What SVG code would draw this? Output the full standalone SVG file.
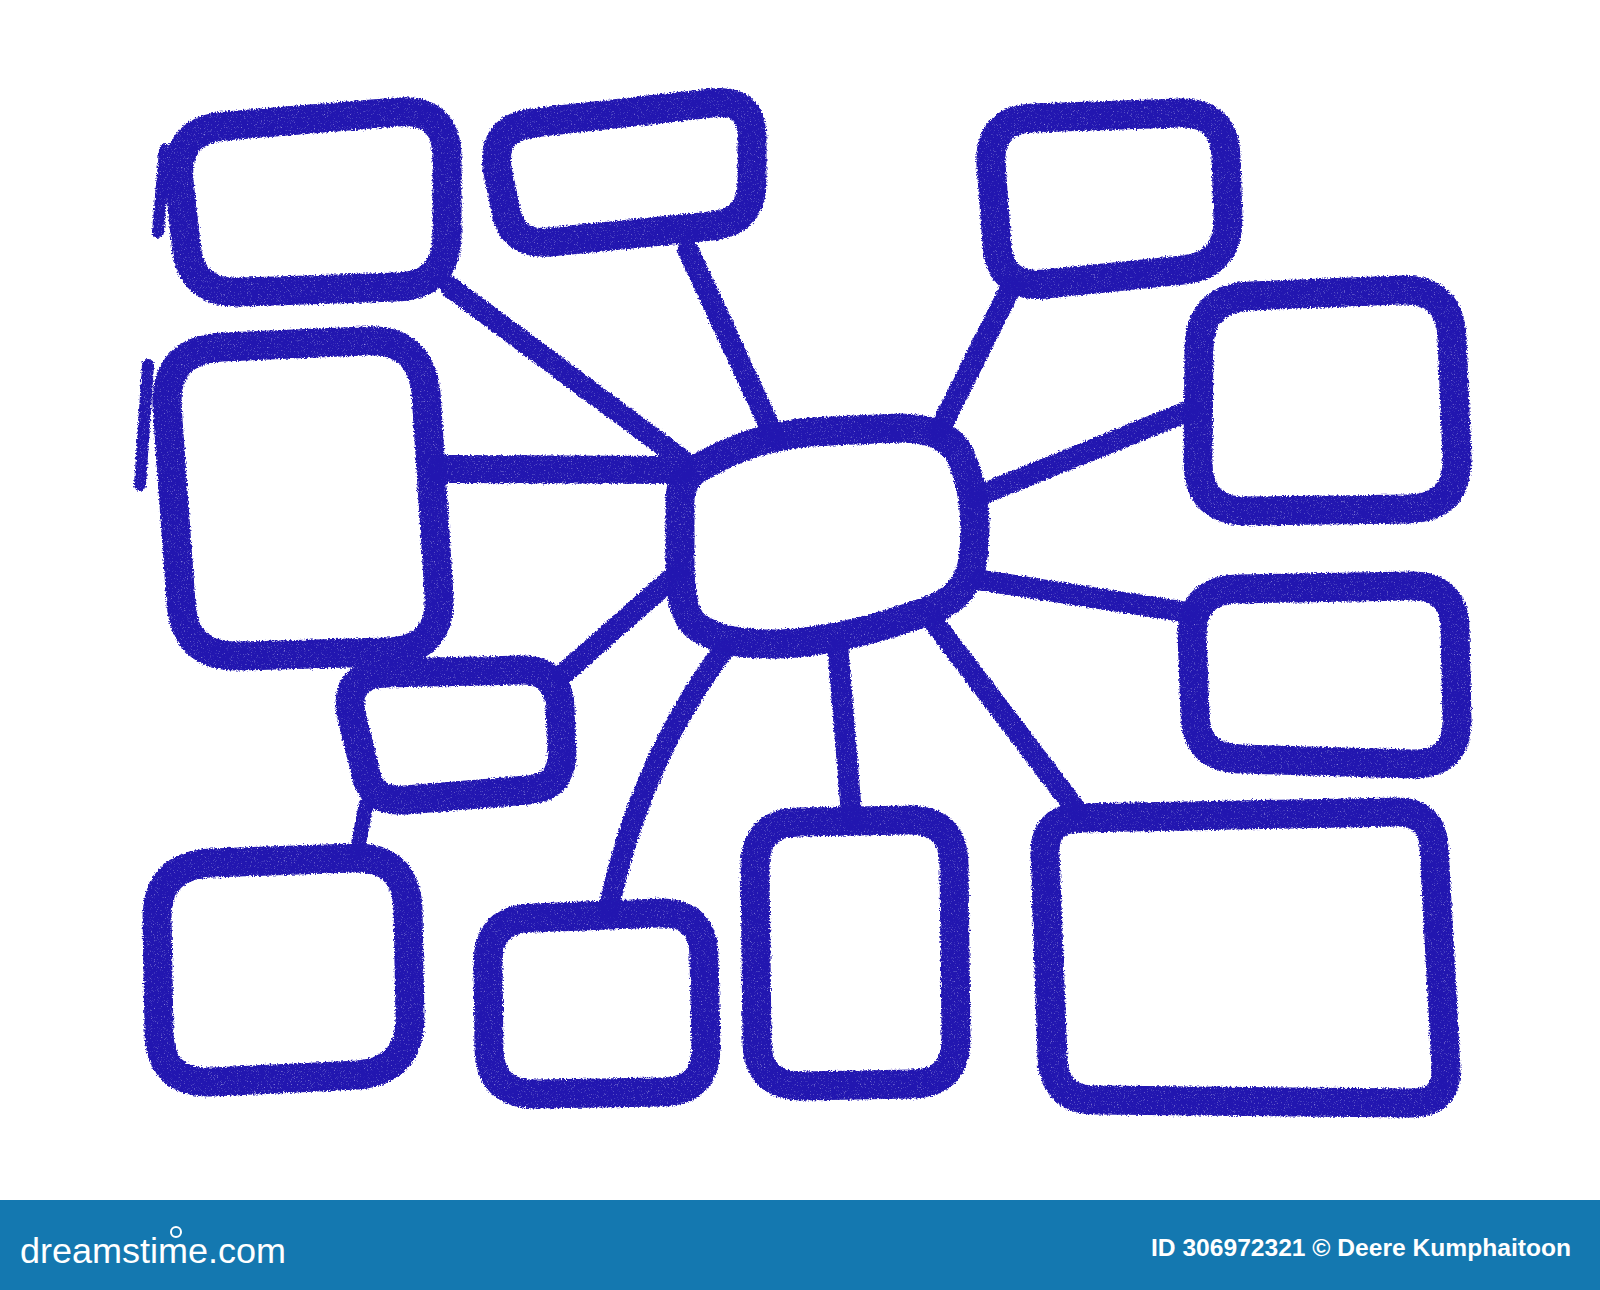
<svg xmlns="http://www.w3.org/2000/svg" width="1600" height="1290" viewBox="0 0 1600 1290">
<defs>
<filter id="pencil" x="-10%" y="-10%" width="120%" height="120%">
<feTurbulence type="fractalNoise" baseFrequency="0.6" numOctaves="2" seed="3" result="n"/>
<feDisplacementMap in="SourceGraphic" in2="n" scale="5" xChannelSelector="R" yChannelSelector="G" result="d"/>
<feTurbulence type="fractalNoise" baseFrequency="1.3" numOctaves="1" seed="9" result="g"/>
<feColorMatrix in="g" type="matrix" values="0 0 0 0 0  0 0 0 0 0  0 0 0 0 0  0 0 0 -2 2.2" result="ga"/>
<feComposite in="d" in2="ga" operator="in"/>
</filter>
<style>
.box{fill:none;stroke:#2318b0;stroke-width:29;stroke-linejoin:round;stroke-linecap:round}
.flick{fill:none;stroke:#2318b0;stroke-width:12;stroke-linecap:round}
.link{fill:none;stroke:#2318b0;stroke-width:21;stroke-linecap:round}
.bar{fill:#1478b0}
.logo{font-family:"Liberation Sans",Arial,sans-serif;font-size:35px;fill:#ffffff}
.credit{font-family:"Liberation Sans",Arial,sans-serif;font-size:24px;font-weight:bold;fill:#ffffff}
</style>
</defs>
<rect x="0" y="0" width="1600" height="1290" fill="#ffffff"/>
<g id="connectors" filter="url(#pencil)">
<path class="link" d="M450,287 L684,461"/>
<path class="link" d="M688,250 L775,438"/>
<path class="link" style="stroke-width:28" d="M441,469 L680,470"/>
<path class="link" d="M562,675 L679,572"/>
<path class="link" style="stroke-width:15" d="M357,852 L366,805"/>
<path class="link" d="M608,912 Q640,760 725,648"/>
<path class="link" d="M852,820 L838,650"/>
<path class="link" d="M1078,812 L936,625"/>
<path class="link" d="M1191,613 L980,580"/>
<path class="link" d="M1191,410 L975,497"/>
<path class="link" d="M1011,287 L938,433"/>
</g>
<g id="nodes" filter="url(#pencil)">
<g id="center"><path class="box" d="M700,467 C740,445 770,436 810,432 L900,428 C935,428 955,440 962,460 C975,490 978,530 972,565 C965,595 945,605 925,612 C880,628 830,642 780,644 C740,645 715,640 695,625 C682,612 680,590 680,560 L680,500 C680,485 688,474 700,467 Z"/></g>
<g id="box-a"><path class="box" d="M225,126 L397,112 Q447,108 447,158 L447,235 Q447,285 397,287 L240,292 Q190,294 186,244 L179,180 Q175,130 225,126 Z"/><path class="flick" d="M165,150 L158,232"/></g>
<g id="box-b"><path class="box" d="M532,123 L712,103 Q752,98 752,138 L752,182 Q752,222 712,226 L550,242 Q510,246 505,206 L497,168 Q492,128 532,123 Z"/></g>
<g id="box-c"><path class="box" d="M1033,118 L1180,113 Q1225,112 1226,157 L1228,220 Q1228,265 1183,270 L1045,284 Q1000,289 997,244 L991,165 Q988,120 1033,118 Z"/></g>
<g id="box-d"><path class="box" d="M1250,296 L1400,290 Q1450,288 1452,338 L1457,458 Q1458,508 1408,509 L1248,511 Q1198,512 1198,462 L1199,348 Q1200,298 1250,296 Z"/></g>
<g id="box-e"><path class="box" d="M1237,589 L1410,586 Q1455,585 1455,630 L1457,720 Q1457,765 1412,764 L1240,759 Q1195,758 1195,713 L1192,635 Q1192,590 1237,589 Z"/></g>
<g id="box-f"><path class="box" d="M1080,818 L1397,812 Q1432,812 1434,847 L1446,1068 Q1447,1103 1412,1103 L1095,1100 Q1055,1100 1053,1060 L1045,853 Q1045,818 1080,818 Z"/><path class="flick" d="M1038,900 L1044,1070"/></g>
<g id="box-g"><path class="box" d="M800,822 L909,820 Q954,820 954,865 L956,1039 Q956,1084 911,1084 L802,1086 Q757,1086 757,1041 L755,867 Q755,822 800,822 Z"/></g>
<g id="box-h"><path class="box" d="M533,918 L659,913 Q704,912 704,957 L706,1047 Q706,1092 661,1092 L535,1094 Q490,1094 489,1049 L488,963 Q488,918 533,918 Z"/></g>
<g id="box-i"><path class="box" d="M212,863 L353,858 Q405,856 408,908 L410,1018 Q410,1070 358,1075 L212,1082 Q160,1084 159,1032 L157,918 Q157,865 212,863 Z"/></g>
<g id="box-j"><path class="box" d="M385,673 L520,670 Q558,669 560,707 L562,752 Q563,787 528,790 L405,800 Q370,803 365,770 L351,713 Q344,675 385,673 Z"/></g>
<g id="box-k"><path class="box" d="M223,347 L365,341 Q420,338 426,393 L439,595 Q442,650 387,652 L240,656 Q185,658 181,603 L167,405 Q165,350 223,347 Z"/><path class="flick" d="M148,365 L140,485"/></g>
</g>
<g id="footer">
<rect class="bar" x="0" y="1200" width="1600" height="90"/>
<text class="logo" x="20" y="1263" textLength="266" lengthAdjust="spacingAndGlyphs">dreamstime.com</text>
<circle cx="176" cy="1232" r="5" fill="none" stroke="#ffffff" stroke-width="2"/>
<text class="credit" x="1151" y="1256" textLength="420" lengthAdjust="spacingAndGlyphs">ID 306972321 © Deere Kumphaitoon</text>
</g>
</svg>
